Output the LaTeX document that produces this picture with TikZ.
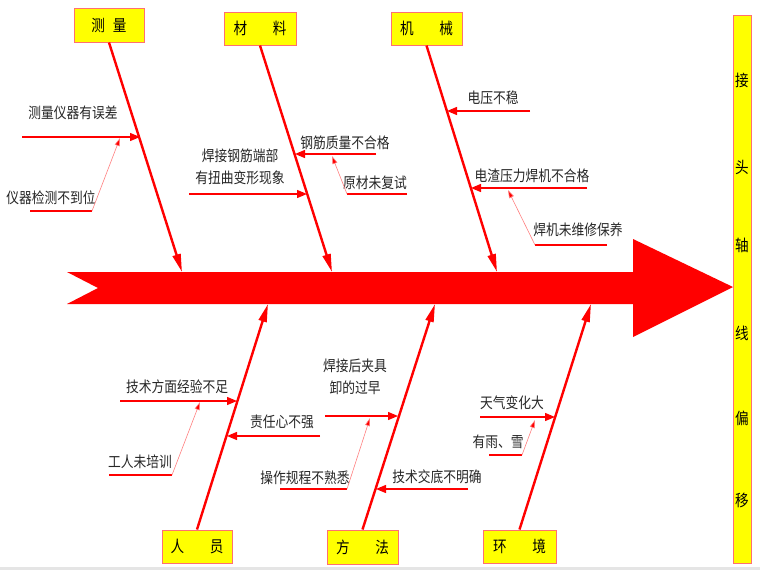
\documentclass[tikz,border=0pt]{standalone}
\usepackage{fontspec}
\newfontfamily\cjk[FakeStretch=0.85]{Noto Sans CJK SC}
\usetikzlibrary{arrows.meta}
\definecolor{fred}{HTML}{FF0000}
\definecolor{fyel}{HTML}{FFFF00}
\definecolor{fbor}{HTML}{FF7070}
\definecolor{fpink}{HTML}{FF8080}
\definecolor{ftxt}{HTML}{262626}
\begin{document}
\begin{tikzpicture}[x=1pt,y=-1pt,
 catbox/.style={draw=fbor, fill=fyel, line width=1pt, inner sep=0pt, font=\cjk\fontsize{16}{18}\selectfont, text=black},
 vchar/.style={font=\cjk\fontsize{16}{18}\selectfont, text=black, inner sep=0pt},
 bone/.style={draw=fred, line width=2.4pt, -{Triangle[length=18pt,width=8pt]}},
 subln/.style={draw=fred, line width=1.3pt, -{Triangle[length=10pt,width=8pt]}},
 redrule/.style={draw=fred, color=fred, line width=1.4pt},
 thinln/.style={draw=fpink, line width=0.6pt, -{Triangle[length=8pt,width=5pt,fill=fred]}},
 lbl/.style={font=\cjk\fontsize{15}{17}\selectfont, text=ftxt, inner sep=0pt, align=center},
]
\useasboundingbox (0,0) rectangle (760,570);
\fill[white] (0,0) rectangle (760,570);
\fill[gray!20] (0,567) rectangle (760,570);

% main arrow
\fill[fred] (67,272) -- (633,272) -- (633,239) -- (733,287) -- (633,337) -- (633,304) -- (67,304) -- (98,288) -- cycle;

% effect box
\node[catbox, minimum width=18pt, minimum height=548pt] (effect) at (742,289) {};
\node[vchar] (e1) at (742,80) {接};
\node[vchar] (e2) at (742,167) {头};
\node[vchar] (e3) at (742,245) {轴};
\node[vchar] (e4) at (742,333) {线};
\node[vchar] (e5) at (742,418) {偏};
\node[vchar] (e6) at (742,500) {移};

% category boxes
\node[catbox, minimum width=70pt, minimum height=34pt] (cl) at (109,25) {测\hspace{0.5em}量};
\node[catbox, minimum width=72pt, minimum height=33pt] (cail) at (260,28.5) {材\hspace{1.6em}料};
\node[catbox, minimum width=71pt, minimum height=33pt] (jx) at (426.5,28.5) {机\hspace{1.6em}械};
\node[catbox, minimum width=70pt, minimum height=33pt] (ry) at (197,546.5) {人\hspace{1.6em}员};
\node[catbox, minimum width=71pt, minimum height=34pt] (ff) at (362.5,547) {方\hspace{1.6em}法};
\node[catbox, minimum width=73pt, minimum height=33pt] (hj) at (519.5,546.5) {环\hspace{1.6em}境};

% bone ends
\coordinate (ecl) at (182,272);
\coordinate (ecail) at (332,272);
\coordinate (ejx) at (497,272);
\coordinate (ery) at (268,304);
\coordinate (eff) at (435,304);
\coordinate (ehj) at (591,304);

\draw[bone] (cl.south) -- (ecl);
\draw[bone] (cail.south) -- (ecail);
\draw[bone] (jx.south) -- (ejx);
\draw[bone] (ry.north) -- (ery);
\draw[bone] (ff.north) -- (eff);
\draw[bone] (hj.north) -- (ehj);

% ---- 测量
\node[lbl] (t1) at (73,113) {测量仪器有误差};
\coordinate (t1s) at (22,137); \coordinate (t1e) at (140,137); \coordinate (t1m) at (120,138);
\draw[subln] (t1s) -- (t1e);
\node[lbl] (t2) at (51,198) {仪器检测不到位};
\coordinate (t2a) at (30,211); \coordinate (t2b) at (92,211);
\draw[redrule] (t2a) -- (t2b);
\draw[thinln] (t2b) -- (t1m);

% ---- 材料
\node[lbl] (t3) at (345,143) {钢筋质量不合格};
\coordinate (t3s) at (376,154); \coordinate (t3e) at (295,154); \coordinate (t3m) at (332,156);
\draw[subln] (t3s) -- (t3e);
\node[lbl] (t4) at (375,183) {原材未复试};
\coordinate (t4a) at (407,194); \coordinate (t4b) at (347,194);
\draw[redrule] (t4a) -- (t4b);
\draw[thinln] (t4b) -- (t3m);
\node[lbl] (t5) at (240,167) {焊接钢筋端部\\[5pt]有扭曲变形现象};
\coordinate (t5s) at (189,194); \coordinate (t5e) at (307,194);
\draw[subln] (t5s) -- (t5e);

% ---- 机械
\node[lbl] (t6) at (493,98) {电压不稳};
\coordinate (t6s) at (530,111); \coordinate (t6e) at (447,111);
\draw[subln] (t6s) -- (t6e);
\node[lbl] (t7) at (532,176) {电渣压力焊机不合格};
\coordinate (t7s) at (587,188); \coordinate (t7e) at (471,188); \coordinate (t7m) at (508,190);
\draw[subln] (t7s) -- (t7e);
\node[lbl] (t8) at (578,230) {焊机未维修保养};
\coordinate (t8a) at (607,245); \coordinate (t8b) at (535,245);
\draw[redrule] (t8a) -- (t8b);
\draw[thinln] (t8b) -- (t7m);

% ---- 人员
\node[lbl] (t9) at (177,387) {技术方面经验不足};
\coordinate (t9s) at (120,401); \coordinate (t9e) at (237,401); \coordinate (t9m) at (200,402);
\draw[subln] (t9s) -- (t9e);
\node[lbl] (t10) at (140,462) {工人未培训};
\coordinate (t10a) at (109,475); \coordinate (t10b) at (172,475);
\draw[redrule] (t10a) -- (t10b);
\draw[thinln] (t10b) -- (t9m);
\node[lbl] (t11) at (282,422) {责任心不强};
\coordinate (t11s) at (320,436); \coordinate (t11e) at (227,436);
\draw[subln] (t11s) -- (t11e);

% ---- 方法
\node[lbl] (t12) at (355,377) {焊接后夹具\\[5pt]卸的过早};
\coordinate (t12s) at (325,416); \coordinate (t12e) at (398,416); \coordinate (t12m) at (370,418);
\draw[subln] (t12s) -- (t12e);
\node[lbl] (t13) at (305,478) {操作规程不熟悉};
\coordinate (t13a) at (280,489); \coordinate (t13b) at (347,489);
\draw[redrule] (t13a) -- (t13b);
\draw[thinln] (t13b) -- (t12m);
\node[lbl] (t14) at (437,477) {技术交底不明确};
\coordinate (t14s) at (468,489); \coordinate (t14e) at (376,489);
\draw[subln] (t14s) -- (t14e);

% ---- 环境
\node[lbl] (t15) at (512,403) {天气变化大};
\coordinate (t15s) at (480,417); \coordinate (t15e) at (555,417); \coordinate (t15m) at (535,420);
\draw[subln] (t15s) -- (t15e);
\node[lbl] (t16) at (498,442) {有雨、雪};
\coordinate (t16a) at (489,455); \coordinate (t16b) at (522,455);
\draw[redrule] (t16a) -- (t16b);
\draw[thinln] (t16b) -- (t15m);
\end{tikzpicture}
\end{document}
